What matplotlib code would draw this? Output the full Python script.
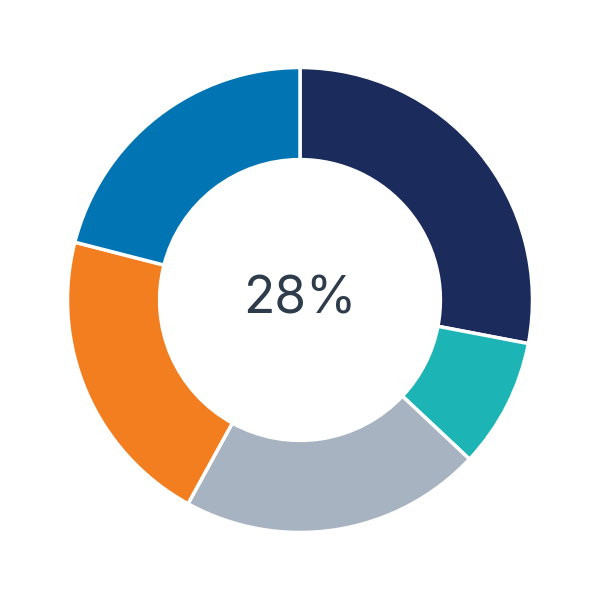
import matplotlib.pyplot as plt

labels = ["A", "B", "C", "D", "E"]
values = [28, 9, 21, 21, 21]
colors = ["#1b2b5b", "#1db4b6", "#a8b3c1", "#f27e20", "#0174b3"]
center_text = "28%"

fig = plt.figure(figsize=(6, 6), dpi=100)
ax = fig.add_axes([0, 0, 1, 1])
ax.pie(values, colors=colors, startangle=90, counterclock=False,
       radius=0.775,
       wedgeprops=dict(width=0.307, edgecolor="white", linewidth=2.5))
ax.text(0, 0.0, center_text, ha="center", va="center", fontsize=37,
        color="#2e3b4a", family="Inter")
ax.set_xlim(-1, 1)
ax.set_ylim(-1, 1)
ax.set_aspect("equal")
ax.axis("off")
fig.savefig("out.png", dpi=100, facecolor="white")
